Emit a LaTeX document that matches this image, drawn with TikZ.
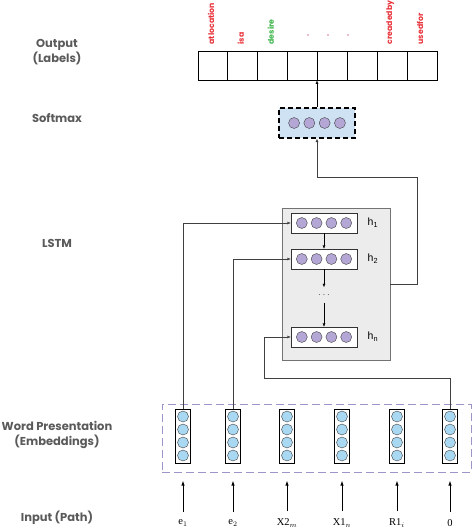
\documentclass[tikz,border=0pt]{standalone}
\usepackage{fontspec}
\setmainfont{Liberation Serif}
\setsansfont{Liberation Sans}
\newfontfamily\labfont{Poppins}
\usepackage{tikz}
\usetikzlibrary{positioning,arrows.meta}
\definecolor{sidegray}{HTML}{5A5A5A}
\definecolor{relred}{HTML}{E8323A}
\definecolor{relgreen}{HTML}{3DB54A}
\definecolor{dotpink}{HTML}{D77AA0}
\definecolor{unitpurple}{HTML}{B4A7D6}
\definecolor{unitblue}{HTML}{A9D8F2}
\definecolor{softblue}{HTML}{CFE2F3}
\definecolor{lstmgray}{HTML}{ECECEC}
\definecolor{dashpurple}{HTML}{9D94C8}

\begin{document}
\begin{tikzpicture}[x=1pt, y=-1pt, >={Latex[length=3.5pt,width=3pt]},
    side/.style={font=\labfont\bfseries\fontsize{11.5}{14.5}\selectfont, text=sidegray, align=center},
    slot/.style={draw, line width=0.9pt, minimum width=29.875pt, minimum height=29pt, inner sep=0pt},
    rel/.style={font=\labfont\bfseries\fontsize{7.8}{9}\selectfont, rotate=90, anchor=west, inner sep=0pt},
    unit/.style={circle, draw=black!75, fill=#1, minimum size=11pt, inner sep=0pt},
    hbox/.style={draw=black!80, fill=white, minimum width=66pt, minimum height=20pt, inner sep=0pt},
    ebox/.style={draw, line width=0.9pt, fill=white, minimum width=15pt, minimum height=54pt, inner sep=0pt},
    hlab/.style={font=\sffamily\fontsize{10.5}{12}\selectfont},
    inlab/.style={font=\fontsize{10.5}{12}\selectfont},
    feed/.style={draw=black!75, ->},
    inarr/.style={->, >={Latex[length=5pt,width=3.5pt]}, line width=0.9pt}]
  \useasboundingbox (0,0) rectangle (474,528);

  % left column
  \node[side] (lout) at (57,52) {Output\\(Labels)};
  \node[side] (lsoft) at (57,118) {Softmax};
  \node[side] (llstm) at (57,243) {LSTM};
  \node[side] (lemb) at (57,435) {Word Presentation\\(Embeddings)};
  \node[side] (lin) at (57,518) {Input (Path)};

  % output labels
  \foreach \i in {1,...,8}
    \node[slot] (o\i) at ({198+(\i-0.5)*29.875},65.5) {};
  \foreach \i/\t/\c in {1/atlocation/relred, 2/isa/relred, 3/desire/relgreen, 7/creadedby/relred, 8/usedfor/relred}
    \node[rel, text=\c] (r\i) at ([xshift=-2pt, yshift=6pt]o\i.north) {\t};
  \foreach \x in {308,328,348}
    \fill[dotpink] (\x,35) circle (0.9pt);

  % softmax
  \node[draw, line width=1.2pt, dash pattern=on 5pt off 3pt, fill=softblue,
        minimum width=76pt, minimum height=30pt] (soft) at (317,123) {};
  \foreach \k in {1,...,4}
    \node[unit=unitpurple] at ({317+(\k-2.5)*15.3},123) {};
  \draw[->] (soft.north) -- (soft.north |- o4.south);

  % lstm
  \node[draw=black!55, fill=lstmgray, minimum width=108pt, minimum height=152pt] (lstm) at (336,284) {};
  \node[hbox] (h1) at (324,223) {};
  \node[hbox] (h2) at (324,259) {};
  \node[text=black!70] (dots) at (324,295) {$\cdots$};
  \node[hbox] (hn) at (324,337) {};
  \foreach \h in {h1,h2,hn}
    \foreach \k in {1,...,4}
      \node[unit=unitpurple] at ([xshift=(\k-2.5)*14.8pt]\h.center) {};
  \node[hlab, right=7pt of h1] (l1) {h\textsubscript{1}};
  \node[hlab, right=7pt of h2] (l2) {h\textsubscript{2}};
  \node[hlab, right=7pt of hn] (ln) {h\textsubscript{n}};
  \draw (h1) edge[->] (h2)
        (h2) edge[->, shorten >=2pt] (dots)
        (dots) edge[->, shorten <=2pt] (hn);

  \coordinate (up) at (417,177);
  \draw[feed] (lstm.east) -| (up) -| (soft.south);

  % embeddings
  \node[draw=dashpurple, line width=1pt, dash pattern=on 8pt off 4pt,
        minimum width=309pt, minimum height=68pt] (emb) at (316.5,438) {};
  \foreach \i/\x/\t in {1/183/e$_1$, 2/233/e$_2$, 3/287/X2$_m$, 4/342/X1$_n$, 5/397/R1$_i$, 6/450/0} {
    \node[ebox] (e\i) at (\x,436) {};
    \foreach \k in {1,...,4}
      \node[unit=unitblue] at (\x,{436+(\k-2.5)*13}) {};
    \node[inlab] (in\i) at (\x,523) {\t};
    \draw[inarr, shorten <=4pt, shorten >=8pt] (in\i) -- (in\i |- emb.south);
  }

  \coordinate (bend) at (264,378);
  \draw[feed] (e1.north) |- (h1.west);
  \draw[feed] (e2.north) |- (h2.west);
  \draw[feed] (e6.north) |- (bend) |- (hn.west);
\end{tikzpicture}
\end{document}
